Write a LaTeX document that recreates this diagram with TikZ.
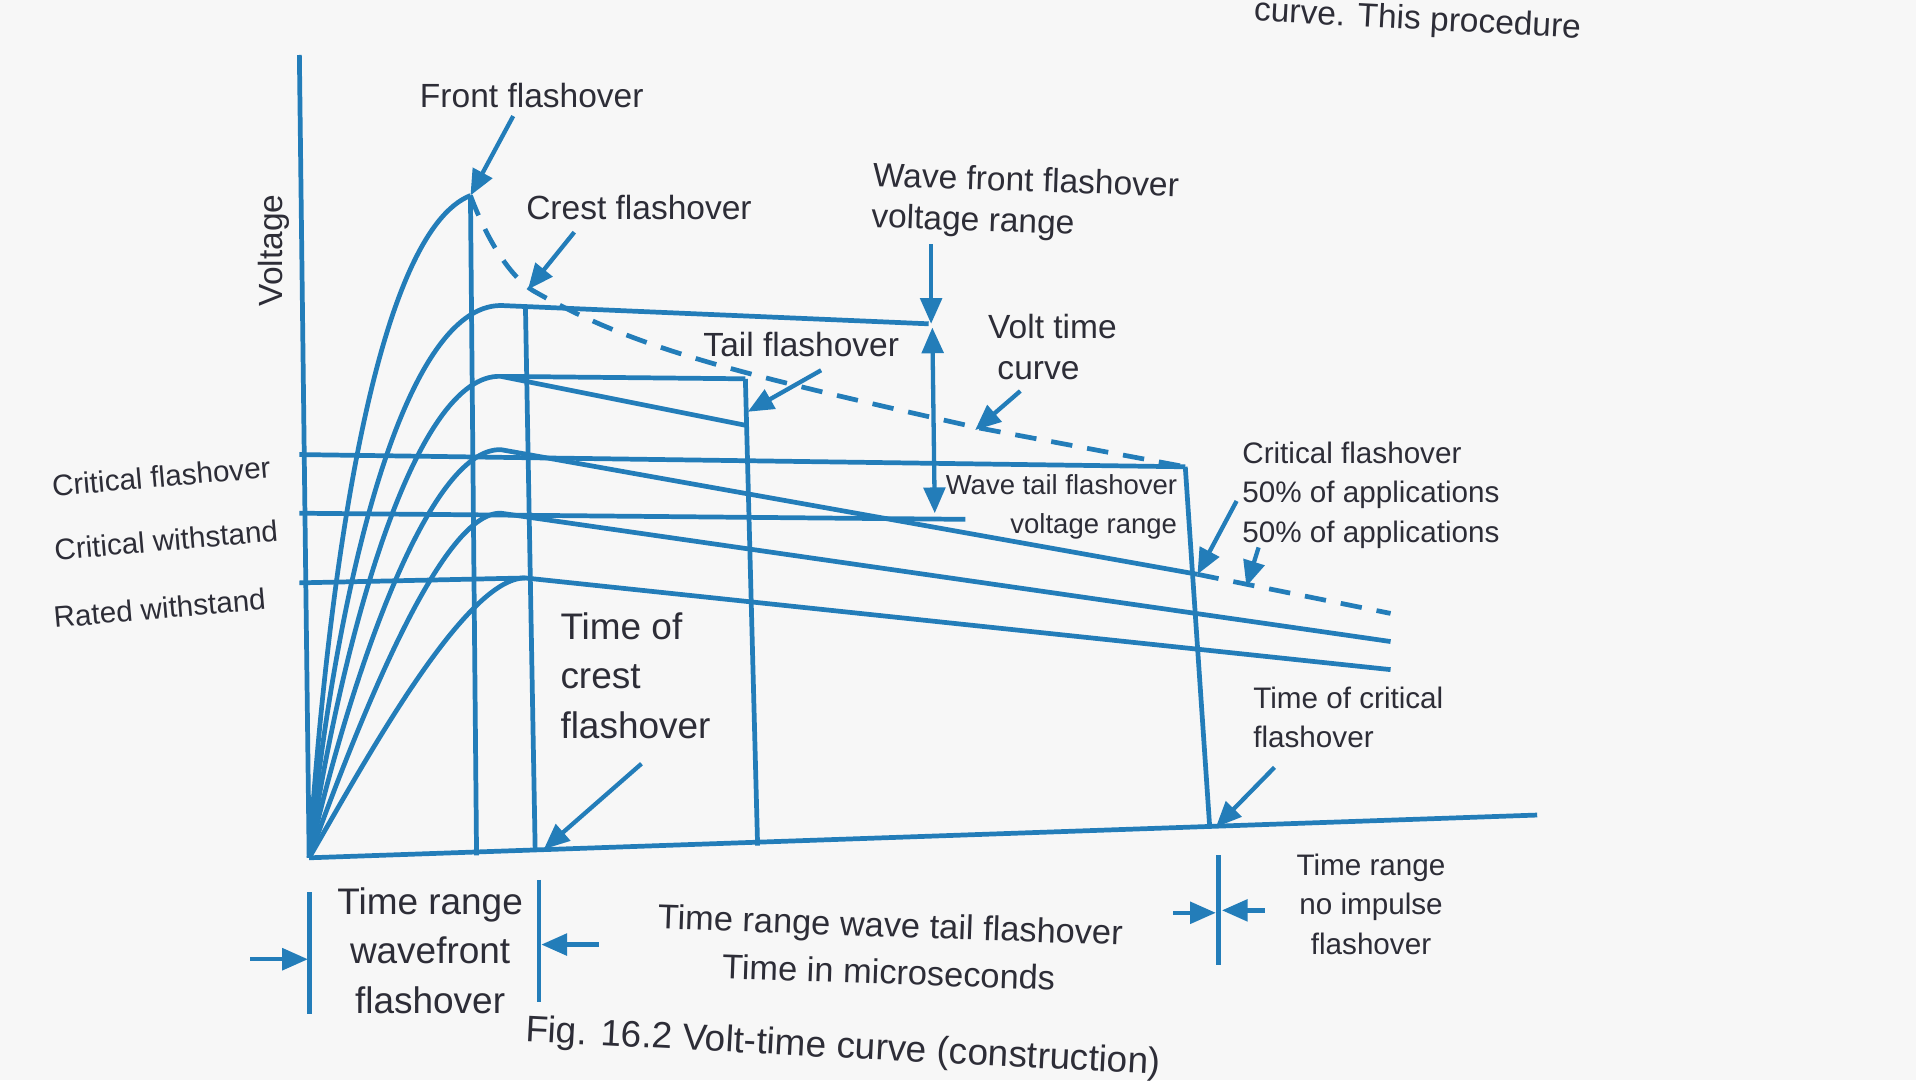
\documentclass[tikz,border=0pt]{standalone}
\usepackage{fontspec}
\setmainfont{Liberation Sans}
\usetikzlibrary{arrows.meta}
\definecolor{ln}{RGB}{35,125,185}
\definecolor{tx}{RGB}{45,45,55}
\begin{document}
\begin{tikzpicture}[x=0.01cm,y=-0.01cm,
  curve/.style={ln,line width=1.1pt},
  vt/.style={ln,line width=1.1pt,dash pattern=on 5pt off 3.5pt},
  arr/.style={ln,line width=1pt,-{Triangle[length=6pt,width=5pt]}},
  lab/.style={tx,font=\fontsize{7.8pt}{9.6pt}\selectfont,align=left,inner sep=0pt},
  sml/.style={tx,font=\fontsize{6.9pt}{9.2pt}\selectfont,align=left,inner sep=0pt},
  big/.style={tx,font=\fontsize{8.6pt}{11.5pt}\selectfont,align=center,inner sep=0pt}]
\fill[gray!6] (0,0) rectangle (1568,884);
\useasboundingbox (0,0) rectangle (1568,884);
% axes
\coordinate (O) at (253,702);
\coordinate (ytop) at (245,45);
\coordinate (xend) at (1258,667);
\draw[curve] (O) -- (ytop);
\draw[curve] (O) -- (xend);
\node[lab,rotate=90] (volt) at (224,205) {Voltage};
% peaks
\coordinate (p1) at (385,160);
\coordinate (p2) at (410,250);
\coordinate (p3) at (410,308);
\coordinate (p4) at (410,368);
\coordinate (p5) at (410,420);
\coordinate (p6) at (430,473);
\draw[curve] (O) .. controls (270,450) and (310,190) .. (p1);
\draw[curve] (O) .. controls (275,480) and (330,250) .. (p2) -- (760,265);
\draw[curve] (O) .. controls (280,520) and (340,305) .. (p3) -- (610,310);
\draw[curve] (p3) -- (610,348);
\draw[curve] (O) .. controls (285,560) and (350,366) .. (p4) -- (980,470);
\draw[curve] (O) .. controls (290,600) and (360,418) .. (p5) -- (1138,525);
\draw[curve] (O) .. controls (295,630) and (380,472) .. (p6) -- (1138,548);
% horizontals
\draw[curve] (245,372) -- (970,382);
\draw[curve] (245,420) -- (790,425);
\draw[curve] (245,477) -- (430,473);
% verticals
\draw[curve] (p1) -- (390,700);
\draw[curve] (430,250) -- (438,697);
\draw[curve] (610,310) -- (620,692);
\draw[curve] (970,382) -- (990,677);
% volt-time curve
\draw[vt] (p1) .. controls (400,200) and (420,230) .. (440,240) .. controls (520,285) and (600,305) .. (800,350) -- (970,382);
\draw[vt] (980,470) -- (1138,502);
% labels
\node[lab,anchor=west] (ff) at (343,78) {Front flashover};
\node[lab,anchor=west] (cf) at (430,170) {Crest flashover};
\node[lab,anchor=west] (tf) at (575,282) {Tail flashover};
\node[lab,anchor=west,rotate=-2] (wf) at (713,162) {Wave front flashover\\voltage range};
\node[lab,anchor=west] (vtc) at (808,284) {Volt time\\ \;curve};
\node[sml,anchor=east,align=right,font=\fontsize{6.4pt}{9pt}\selectfont] (wt) at (964,415) {Wave tail flashover\\voltage range};
\node[sml,anchor=west] (cfl) at (1016,405) {Critical flashover\\50\% of applications\\50\% of applications};
\node[sml,anchor=west] (tcf) at (1025,587) {Time of critical\\flashover};
\node[big,anchor=west,align=left] (tcr) at (458,553) {Time of\\crest\\flashover};
\node[sml,anchor=east,rotate=5] (cfo) at (222,382) {Critical flashover};
\node[sml,anchor=east,rotate=5] (cw) at (228,434) {Critical withstand};
\node[sml,anchor=east,rotate=5] (rw) at (218,490) {Rated withstand};
% arrows
\draw[arr] (420,95) -- (p1);
\draw[arr] (470,190) -- (432,237);
\draw[arr] (672,303) -- (612,337);
\draw[arr] (835,320) -- (798,352);
\draw[arr] (1012,410) -- (980,470);
\draw[arr] (1030,448) -- (1020,480);
\draw[arr] (525,625) -- (445,695);
\draw[arr] (1043,628) -- (995,677);
\draw[arr] (762,200) -- (762,265);
\draw[ln,line width=1pt,{Triangle[length=6pt,width=5pt]}-{Triangle[length=6pt,width=5pt]}] (763,268) -- (765,420);
% bottom
\draw[curve] (253,730) -- (253,830);
\draw[curve] (441,720) -- (441,820);
\draw[curve] (997,700) -- (997,790);
\draw[arr] (205,785) -- (252,785);
\draw[arr] (490,773) -- (443,773);
\draw[arr] (960,747) -- (995,747);
\draw[arr] (1035,745) -- (1000,745);
\node[big] (trw) at (352,778) {Time range\\wavefront\\flashover};
\node[big,rotate=-2,font=\fontsize{8pt}{11pt}\selectfont] (trt) at (728,776) {Time range wave tail flashover\\Time in microseconds};
\node[sml,align=center] (tni) at (1122,740) {Time range\\no impulse\\flashover};
\node[big,rotate=-3] (cap) at (690,858) {Fig. 16.2 Volt-time curve (construction)};
\node[lab,rotate=-3] (top) at (1160,17) {curve. This procedure};
\end{tikzpicture}
\end{document}
